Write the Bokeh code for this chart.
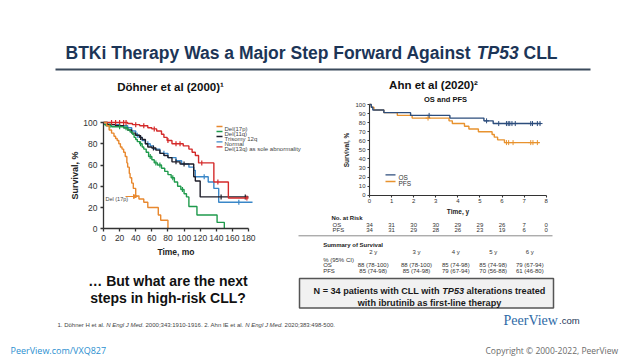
import math
from bokeh.plotting import figure
from bokeh.models import Range1d, LinearAxis, FixedTicker, ColumnDataSource, Arrow, NormalHead
from bokeh.core.properties import value
from bokeh.embed import file_html
from bokeh.resources import INLINE

# ---------------- data: Döhner et al (2000), survival %, time in months ----------------
dohner_xticks = [0, 20, 40, 60, 80, 100, 120, 140, 160, 180]
dohner_yticks = [0, 20, 40, 60, 80, 100]
dohner_labels = ["Del(17p)", "Del(11q)", "Trisomy 12q", "Normal", "Del(13q) as sole abnormality"]

del17p_t = [0, 4, 7, 10, 13, 15, 17, 19, 21, 23, 25, 27, 29, 30, 32, 33, 35, 37, 40, 44, 50, 55, 68, 71, 80]
del17p_s = [100, 97, 93, 90, 87, 85, 83, 80, 77, 75, 72, 68, 62, 58, 52, 48, 43, 38, 31, 28, 25, 20, 13, 8, 0]
del17p_ct = []
del17p_cs = []

del11q_t = [0, 3, 10, 25, 30, 33, 36, 38, 40, 42, 45, 48, 50, 53, 56, 60, 63, 67, 72, 76, 80, 84, 88, 92, 96, 100, 103, 106, 116, 141, 150]
del11q_s = [98, 97, 96, 95, 93, 91, 89, 86, 84, 82, 80, 77, 75, 72, 68, 65, 62, 60, 57, 54, 51, 48, 44, 40, 37, 33, 30, 21, 13, 6, 0]
del11q_ct = [8, 20, 28, 46, 58, 65, 70, 86, 98]
del11q_cs = [97, 96, 95, 80, 68, 62, 60, 48, 37]

tri12_t = [0, 5, 15, 25, 30, 35, 40, 45, 48, 52, 55, 60, 65, 70, 75, 80, 85, 95, 112, 114, 120, 180]
tri12_s = [100, 98, 97, 95, 93, 90, 88, 86, 84, 80, 77, 76, 74, 71, 69, 67, 63, 61, 49, 45, 30, 30]
tri12_ct = [46, 62, 90, 100, 146, 176]
tri12_cs = [86, 76, 63, 61, 30, 30]

normal_t = [0, 5, 20, 30, 35, 40, 44, 48, 52, 58, 62, 70, 80, 90, 97, 106, 112, 114, 130, 137, 143, 185]
normal_s = [100, 98, 97, 95, 92, 88, 86, 83, 80, 78, 75, 71, 67, 64, 61, 58, 55, 49, 44, 38, 25, 25]
normal_ct = [42, 55, 75, 125, 168]
normal_cs = [88, 80, 71, 49, 25]

del13q_t = [0, 30, 36, 45, 55, 60, 66, 72, 75, 79, 85, 99, 106, 110, 114, 118, 137, 155, 180]
del13q_s = [100, 99, 98, 97, 95, 94, 92, 89, 86, 83, 80, 78, 75, 72, 69, 62, 44, 29, 29]
del13q_ct = [10, 15, 20, 25, 28, 40, 50, 63, 80, 90, 95, 122, 142, 178]
del13q_cs = [100, 100, 100, 100, 100, 98, 97, 94, 83, 80, 80, 62, 44, 29]

# ---------------- data: Ahn et al (2020), survival %, time in years ----------------
ahn_xticks = [0, 1, 2, 3, 4, 5, 6, 7, 8]
ahn_yticks = [0, 10, 20, 30, 40, 50, 60, 70, 80, 90, 100]
ahn_labels = ["OS", "PFS"]

os_t = [0, 0.08, 0.15, 0.65, 1.86, 3.64, 5.18, 5.6, 7.77]
os_s = [100, 97, 94, 91, 88, 85, 82, 79, 79]
os_ct = [2.7, 5.3, 5.85, 6.2, 6.28, 6.35, 6.45, 6.6, 7.3, 7.38, 7.6, 7.72]
os_cs = [88, 82, 79, 79, 79, 79, 79, 79, 79, 79, 79, 79]

pfs_t = [0, 0.08, 0.2, 0.65, 1.26, 1.93, 3.6, 3.75, 4.3, 4.5, 4.93, 5.55, 5.65, 5.8, 6.11, 7.7]
pfs_s = [100, 97, 94, 91, 88, 85, 82, 79, 76, 73, 70, 67, 64, 61, 58, 58]
pfs_ct = [2.65, 6.2, 6.3, 6.5, 7.3, 7.4, 7.6]
pfs_cs = [85, 58, 58, 58, 58, 58, 58]

risk_years = [0, 1, 2, 3, 4, 5, 6, 7, 8]
risk_os = ["34", "31", "30", "30", "29", "29", "26", "7", "0"]
risk_pfs = ["34", "31", "29", "28", "26", "23", "19", "6", "0"]

summary_cols = ["2 y", "3 y", "4 y", "5 y", "6 y"]
summary_os = ["88 (78-100)", "88 (78-100)", "85 (74-98)", "85 (74-98)", "79 (67-94)"]
summary_pfs = ["85 (74-98)", "85 (74-98)", "79 (67-94)", "70 (56-88)", "61 (46-80)"]

# ---------------- styles ----------------
FONT = "Liberation Sans"
DOHNER_COLORS = ["#e8882e", "#1f9a4c", "#1e1e2a", "#3a87c8", "#d42a2a"]
OS_COLOR = "#2c4d7c"
PFS_COLOR = "#e8922e"
NAVY = "#1c3557"
SP = 0.278  # width of a space in em (Arial metrics)

p = figure(width=638, height=359, x_range=Range1d(0, 638), y_range=Range1d(359, 0),
           x_axis_type=None, y_axis_type=None, toolbar_location=None,
           output_backend="svg", min_border=0, outline_line_color=None,
           background_fill_color="white", border_fill_color="white")


def lin_range(lo_px, hi_px, a_px, a_val, b_px, b_val):
    k = (b_val - a_val) / (b_px - a_px)
    return Range1d(start=a_val + (lo_px - a_px) * k, end=a_val + (hi_px - a_px) * k)


p.extra_x_ranges = {"k1x": lin_range(0, 638, 103, 0, 248, 180),
                    "k2x": lin_range(0, 638, 369, 0, 545.7, 8)}
p.extra_y_ranges = {"k1y": lin_range(359, 0, 228.3, 0, 122, 100),
                    "k2y": lin_range(359, 0, 194.7, 0, 104, 100)}


def add_axis(side, xr, yr, ticks, bounds, size, label, label_size, standoff, label_standoff, tick_len, lw):
    ax = LinearAxis(x_range_name=xr, y_range_name=yr, fixed_location=0, bounds=bounds,
                    ticker=FixedTicker(ticks=ticks), axis_label=label)
    ax.axis_line_color = "#333333"
    ax.axis_line_width = lw
    ax.major_tick_line_color = "#333333"
    ax.major_tick_line_width = lw
    ax.major_tick_in = 0
    ax.major_tick_out = tick_len
    ax.minor_tick_line_color = None
    ax.major_label_text_font = FONT
    ax.major_label_text_font_size = f"{size}px"
    ax.major_label_text_color = "#333333"
    ax.major_label_standoff = standoff
    ax.axis_label_text_font = FONT
    ax.axis_label_text_font_size = f"{label_size}px"
    ax.axis_label_text_font_style = "bold"
    ax.axis_label_text_color = "#222222"
    ax.axis_label_standoff = label_standoff
    p.add_layout(ax, side)


def txt(x, y, s, size, style="normal", color="#222222", align="left", font=FONT, xr="default", yr="default"):
    if not isinstance(s, list):
        s = [s]
    n = len(s)
    xs = list(x) if isinstance(x, list) else [x] * n
    ys = list(y) if isinstance(y, list) else [y] * n
    src = ColumnDataSource(dict(x=xs, y=ys, t=s))
    p.text(x="x", y="y", text="t", source=src, text_font=value(font),
           text_font_size=value(f"{size}px"), text_font_style=style, text_color=color,
           text_align=align, text_baseline="alphabetic", x_range_name=xr, y_range_name=yr)


# ---------------- title ----------------
TS = 17.5
txt(65, 52, "BTKi Therapy Was a Major Step Forward Against", TS, "bold", NAVY)
txt(65 + 23.505 * TS, 52, "TP53", TS, "bold italic", NAVY)
txt(65 + (25.895 + SP) * TS, 52, "CLL", TS, "bold", NAVY)
p.segment(x0=[55], y0=[69], x1=[590], y1=[69], line_color="#3b4a5c", line_width=2)

# ---------------- Döhner panel ----------------
txt(170, 86, "Döhner et al (2000)¹", 11.5, "bold", "#111111", "center")

add_axis("below", "k1x", "k1y", dohner_xticks, (0, 180), 8.5, "Time, mo", 8.5, 3, 3, 3, 1.3)
add_axis("left", "k1x", "k1y", dohner_yticks, (0, 100), 8.5, "Survival, %", 9, 3, 0, 3, 1.3)

dohner_series = [(del17p_t, del17p_s, del17p_ct, del17p_cs),
                 (del11q_t, del11q_s, del11q_ct, del11q_cs),
                 (tri12_t, tri12_s, tri12_ct, tri12_cs),
                 (normal_t, normal_s, normal_ct, normal_cs),
                 (del13q_t, del13q_s, del13q_ct, del13q_cs)]
for i in [3, 2, 4, 1, 0]:
    t, s, ct, cs = dohner_series[i]
    col = DOHNER_COLORS[i]
    p.step(x=t, y=s, mode="after", line_color=col, line_width=1.4, x_range_name="k1x", y_range_name="k1y")
    if ct:
        p.scatter(x=ct, y=cs, marker="dash", angle=math.pi / 2, size=5, line_color=col, line_width=1.2,
                  x_range_name="k1x", y_range_name="k1y")

# legend
leg_y = [126, 131, 136, 141.3, 146.3]
for lab, col, yy in zip(dohner_labels, DOHNER_COLORS, leg_y):
    p.segment(x0=[216], y0=[yy], x1=[222], y1=[yy], line_color=col, line_width=1.3)
    txt(224, yy + 2.1, lab, 6, "normal", "#444444")

# Del(17p) callout
txt(105, 198, "Del (17p)", 5.5, "normal", "#444444")
p.add_layout(Arrow(end=NormalHead(size=4, fill_color=DOHNER_COLORS[0], line_color=DOHNER_COLORS[0]),
                   x_start=125, y_start=196, x_end=137, y_end=196,
                   line_color=DOHNER_COLORS[0], line_width=1))

txt(167.5, 280, "… But what are the next", 14, "bold", "#111111", "center")
txt(167.5, 297, "steps in high-risk CLL?", 14, "bold", "#111111", "center")

# ---------------- Ahn panel ----------------
txt(433, 84, "Ahn et al (2020)²", 11.5, "bold", "#111111", "center")
txt(445, 99, "OS and PFS", 7.5, "bold", "#111111", "center")

add_axis("below", "k2x", "k2y", ahn_xticks, (0, 8), 6, "Time, y", 6.5, 2, 1, 2, 1.1)
add_axis("left", "k2x", "k2y", ahn_yticks, (0, 100), 6, "Survival, %", 6.5, 2, 2, 2, 1.1)

for t, s, ct, cs, col in [(pfs_t, pfs_s, pfs_ct, pfs_cs, PFS_COLOR), (os_t, os_s, os_ct, os_cs, OS_COLOR)]:
    p.step(x=t, y=s, mode="after", line_color=col, line_width=1.4, x_range_name="k2x", y_range_name="k2y")
    p.scatter(x=ct, y=cs, marker="cross", size=5, line_color=col, line_width=1,
              x_range_name="k2x", y_range_name="k2y")

for lab, col, yy in zip(ahn_labels, [OS_COLOR, PFS_COLOR], [174.3, 181]):
    p.segment(x0=[385], y0=[yy], x1=[395], y1=[yy], line_color=col, line_width=1.3)
    txt(398, yy + 2.2, lab, 6.5, "normal", "#333333")

# number at risk
TB = 6
txt(331, 217.3, "No. at Risk", TB, "bold", "#222222")
txt(332, 224, "OS", TB, "normal", "#333333")
txt(332, 229.8, "PFS", TB, "normal", "#333333")
txt(risk_years, 224, risk_os, TB, "normal", "#333333", "center", xr="k2x")
txt(risk_years, 229.8, risk_pfs, TB, "normal", "#333333", "center", xr="k2x")
p.segment(x0=[298], y0=[235.3], x1=[552], y1=[235.3], line_color="#8a8a8a", line_width=1)

# summary of survival
col_x = [372.7, 416, 455.3, 492.7, 529.3]
txt(322.7, 244, "Summary of Survival", TB, "bold", "#222222")
txt(col_x, 251.3, summary_cols, TB, "normal", "#333333", "center")
txt(322.7, 259, "% (95% CI)", TB, "normal", "#333333")
txt(322.7, 264.9, "OS", TB, "normal", "#333333")
txt(322.7, 270.5, "PFS", TB, "normal", "#333333")
txt(col_x, 264.9, summary_os, TB, "normal", "#333333", "center")
txt(col_x, 270.5, summary_pfs, TB, "normal", "#333333", "center")

# callout box
p.quad(left=[299], right=[553], top=[278], bottom=[307.5], fill_color="#f1f1f1", line_color="#555555", line_width=1.5)
BS = 9.1
bx = 429 - 25.479 * BS / 2
txt(bx, 290, "N = 34 patients with CLL with", BS, "bold", "#1a1a1a")
txt(bx + 14.142 * BS, 290, "TP53", BS, "bold italic", "#1a1a1a")
txt(bx + (16.532 + SP) * BS, 290, "alterations treated", BS, "bold", "#1a1a1a")
txt(429, 302, "with ibrutinib as first-line therapy", BS, "bold", "#1a1a1a", "center")

# ---------------- footer ----------------
FS = 6
fx = 57
txt(fx, 324, "1. Döhner H et al.", FS, "normal", "#444444")
txt(fx + 8.115 * FS, 324, "N Engl J Med.", FS, "italic", "#444444")
txt(fx + (14.395 + SP) * FS, 324, "2000;343:1910-1916. 2. Ahn IE et al.", FS, "normal", "#444444")
txt(fx + 31.296 * FS, 324, "N Engl J Med.", FS, "italic", "#444444")
txt(fx + (37.576 + SP) * FS, 324, "2020;383:498-500.", FS, "normal", "#444444")

txt(503, 320, "PeerView", 14, "normal", "#2e6aa6", font="Liberation Serif")
txt(558.5, 320, ".com", 9.5, "normal", "#1c3557")
txt(10, 350, "PeerView.com/VXQ827", 9, "normal", "#2b8fd0", font="Open Sans")
txt(485, 350, "Copyright © 2000-2022, PeerView", 8.5, "normal", "#6b6b6b", font="Open Sans")

open("out.html", "w").write(file_html(p, INLINE))
